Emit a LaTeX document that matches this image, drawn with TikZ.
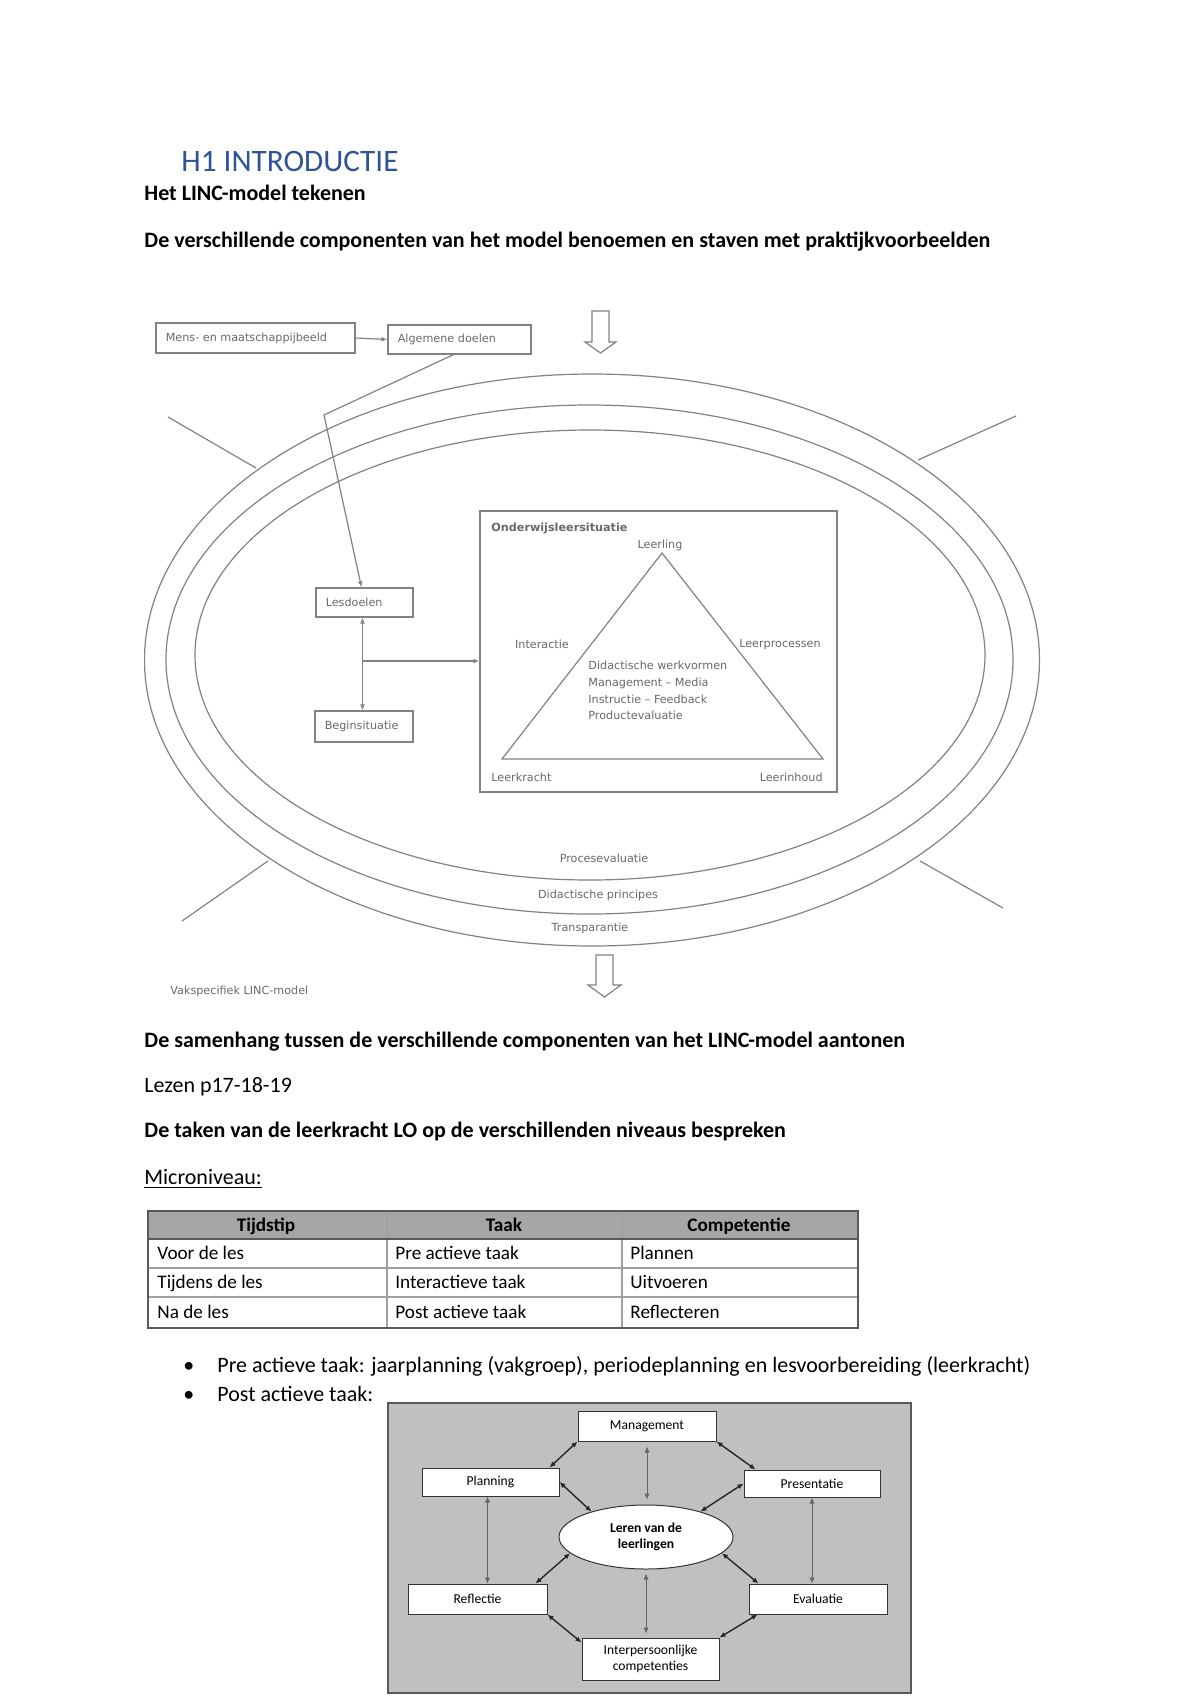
\documentclass[tikz,border=0pt]{standalone}
\usepackage{fontspec}
\setmainfont{Carlito}
\newfontfamily\dejavu{DejaVu Sans}
\usetikzlibrary{arrows.meta,shapes.geometric,fit}
\definecolor{headblue}{RGB}{47,84,150}
\definecolor{lincline}{RGB}{130,130,130}
\definecolor{linctext}{RGB}{105,105,105}
\definecolor{thead}{RGB}{166,166,166}
\definecolor{tline}{RGB}{160,160,160}
\definecolor{dbg}{RGB}{192,192,192}
\begin{document}
\begin{tikzpicture}[x=0.5pt,y=-0.5pt,
  body/.style={anchor=base west,inner sep=0,font=\fontsize{11}{13}\selectfont},
  bbody/.style={anchor=base west,inner sep=0,font=\fontsize{11}{13}\selectfont\bfseries},
  tcell/.style={anchor=base west,inner sep=0,font=\fontsize{9.6}{11}\selectfont},
  thcell/.style={anchor=base,inner sep=0,font=\fontsize{9.6}{11}\selectfont\bfseries},
  ltxt/.style={inner sep=0,text=linctext,font=\dejavu\fontsize{5.6}{7}\selectfont},
  lbox/.style={draw=lincline,line width=0.6pt,inner sep=0},
  lnk/.style={draw=lincline,line width=0.6pt},
  larr/.style={-{Latex[length=3pt,width=2.4pt]}},
  lbiarr/.style={{Latex[length=3pt,width=2.4pt]}-{Latex[length=3pt,width=2.4pt]}},
  dbox/.style={draw=black!80,line width=0.5pt,fill=white,inner sep=0,align=center,font=\fontsize{6.8}{7.8}\selectfont},
  darr/.style={{Latex[length=3pt,width=2.6pt]}-{Latex[length=3pt,width=2.6pt]},line width=0.7pt,draw=black!85},
  dvarr/.style={{Latex[length=3pt,width=2.6pt]}-{Latex[length=3pt,width=2.6pt]},line width=0.35pt,draw=black!60},
  ]
\fill[white] (0,0) rectangle (1200,1698);
\useasboundingbox (0,0) rectangle (1200,1698);

% ---- headings
\node[body,font=\fontsize{15.6}{18}\selectfont,text=headblue] (h1) at (181,171) {H1 INTRODUCTIE};
\node[bbody] (t1) at (144,200) {Het LINC-model tekenen};
\node[bbody] (t2) at (144,247) {De verschillende componenten van het model benoemen en staven met praktijkvoorbeelden};

% ---- LINC model
\node[lbox,fit={(156,323)(355,353)}] (mens) {};
\node[ltxt,anchor=west] (menst) at ([xshift=5pt]mens.west) {Mens- en maatschappijbeeld};
\node[lbox,fit={(388,325)(531,354)}] (alg) {};
\node[ltxt,anchor=west] (algt) at ([xshift=5pt]alg.west) {Algemene doelen};
\draw[lnk,larr] (mens.east) -- (alg.west);

\draw[lnk,fill=white] (592,311) -- (609,311) -- (609,342) -- (616,342) -- (600.5,353) -- (585,342) -- (592,342) -- cycle;

\begin{scope}
\clip (144,300) rectangle (1100,1000);
\draw[lnk] (592,660) ellipse [x radius=447.5, y radius=286];
\end{scope}
\draw[lnk] (589.5,659.5) ellipse [x radius=423.5, y radius=254.5];
\draw[lnk] (590,655) ellipse [x radius=395, y radius=225];

\draw[lnk] (168,417) -- (256,468);
\draw[lnk] (1016,416) -- (918,460);
\draw[lnk] (182,921) -- (268,861);
\draw[lnk] (1003,908) -- (920,861);

\node[lbox,fit={(316,588)(413,617)}] (les) {};
\node[ltxt,anchor=west] (lest) at ([xshift=5pt]les.west) {Lesdoelen};
\node[lbox,fit={(315,711)(413,742)}] (begin) {};
\node[ltxt,anchor=west] (begint) at ([xshift=5pt]begin.west) {Beginsituatie};

\node[lbox,fit={(480,511)(837,792)}] (owls) {};
\node[ltxt,anchor=west,font=\dejavu\fontsize{5.6}{7}\selectfont\bfseries] (owlst) at (491,528) {Onderwijsleersituatie};

\coordinate (bend) at (324,415);
\draw[lnk,larr] ([xshift=-3pt]alg.south) -- (bend) -- ([xshift=-1.5pt]les.north);
\draw[lnk,lbiarr] ([xshift=-1pt]les.south) -- ([xshift=-1pt]les.south |- begin.north);
\coordinate (j) at (362.5,661);
\draw[lnk,larr] (j) -- (j -| owls.west);

\coordinate (apex) at (662,553);
\coordinate (tl) at (502,759);
\coordinate (tr) at (823,759);
\draw[lnk] (apex) -- (tl) -- (tr) -- cycle;

\node[ltxt] (leerling) at (660,545) {Leerling};
\node[ltxt] (inter) at (542,644) {Interactie};
\node[ltxt] (leerproc) at (780,645) {Leerprocessen};
\node[ltxt,anchor=north west,align=left,font=\dejavu\fontsize{5.6}{8.3}\selectfont] (mid) at (588,661) {Didactische werkvormen\\Management – Media\\Instructie – Feedback\\Productevaluatie};
\node[ltxt,anchor=west] (leerkr) at (491,777) {Leerkracht};
\node[ltxt,anchor=east] (leerinh) at (823,777) {Leerinhoud};

\node[ltxt] (proc) at (604,858) {Procesevaluatie};
\node[ltxt] (didp) at (598,895) {Didactische principes};
\node[ltxt] (transp) at (590,928) {Transparantie};
\node[ltxt,anchor=west] (cap) at (170,991) {Vakspecifiek LINC-model};

\draw[lnk,fill=white] (596,955) -- (613,955) -- (613,985) -- (621,985) -- (604.5,997) -- (588,985) -- (596,985) -- cycle;

% ---- lower text
\node[bbody] (t3) at (144,1047) {De samenhang tussen de verschillende componenten van het LINC-model aantonen};
\node[body] (t4) at (144,1092) {Lezen p17-18-19};
\node[bbody] (t5) at (144,1137) {De taken van de leerkracht LO op de verschillenden niveaus bespreken};
\node[body] (t6) at (144,1184) {\underline{Microniveau:}};

% ---- table
\fill[thead] (148,1211) rectangle (858,1239);
\draw[tline,line width=0.6pt] (148,1268) -- (858,1268) (148,1297) -- (858,1297)
  (387,1211) -- (387,1328) (622,1211) -- (622,1328);
\draw[black!65,line width=0.7pt] (148,1239) -- (858,1239);
\draw[black!65,line width=0.8pt] (148,1211) rectangle (858,1328);
\node[thcell] (c11) at (266,1231) {Tijdstip};
\node[thcell] (c12) at (504,1231) {Taak};
\node[thcell] (c13) at (739,1231) {Competentie};
\node[tcell] (c21) at (157,1259) {Voor de les};
\node[tcell] (c22) at (395,1259) {Pre actieve taak};
\node[tcell] (c23) at (630,1259) {Plannen};
\node[tcell] (c31) at (157,1288) {Tijdens de les};
\node[tcell] (c32) at (395,1288) {Interactieve taak};
\node[tcell] (c33) at (630,1288) {Uitvoeren};
\node[tcell] (c41) at (157,1318) {Na de les};
\node[tcell] (c42) at (395,1318) {Post actieve taak};
\node[tcell] (c43) at (630,1318) {Reflecteren};

% ---- bullets
\node[body] (b1) at (183,1372) {\textbullet};
\node[body] (b1t) at (217,1372) {Pre actieve taak: jaarplanning (vakgroep), periodeplanning en lesvoorbereiding (leerkracht)};
\node[body] (b2) at (183,1401) {\textbullet};
\node[body] (b2t) at (217,1401) {Post actieve taak:};

% ---- diagram 2
\draw[draw=black!65,line width=0.8pt,fill=dbg] (388,1403) rectangle (911,1693);
\node[dbox,minimum width=69pt,minimum height=15pt] (mgmt) at (647,1426) {Management};
\node[dbox,minimum width=68.5pt,minimum height=14pt] (plan) at (490.5,1482) {Planning};
\node[dbox,minimum width=68pt,minimum height=13.5pt] (pres) at (812,1483.5) {Presentatie};
\node[dbox,ellipse,minimum width=87pt,minimum height=32pt,font=\fontsize{6.8}{7.8}\selectfont\bfseries] (ell) at (646,1537) {Leren van de\\leerlingen};
\node[dbox,minimum width=69.5pt,minimum height=15pt] (refl) at (477.5,1599) {Reflectie};
\node[dbox,minimum width=69pt,minimum height=15pt] (eval) at (818,1599) {Evaluatie};
\node[dbox,minimum width=68.5pt,minimum height=21pt] (interp) at (650.5,1659) {Interpersoonlijke\\competenties};

\draw[darr] (mgmt.south west) -- ([xshift=-5pt]plan.north east);
\draw[darr] (mgmt.south east) -- ([xshift=6pt]pres.north west);
\draw[dvarr,shorten <=2.5pt,shorten >=2.5pt] (mgmt.south) -- (mgmt.south |- ell.north);
\draw[darr] (plan.east) -- (ell.155);
\draw[darr] (pres.west) -- (ell.25);
\draw[dvarr] ([xshift=-1.5pt]plan.south) -- ([xshift=-1.5pt]plan.south |- refl.north);
\draw[dvarr] (pres.south) -- (pres.south |- eval.north);
\draw[darr] (ell.192) -- ([xshift=-6pt]refl.north east);
\draw[darr] (ell.348) -- ([xshift=5pt]eval.north west);
\draw[dvarr,shorten <=2pt,shorten >=2pt] (ell.south) -- (ell.south |- interp.north);
\draw[darr] (refl.south east) -- ([yshift=-2.5pt]interp.north west);
\draw[darr] ([xshift=4.5pt]eval.south west) -- (interp.north east);
\end{tikzpicture}
\end{document}
